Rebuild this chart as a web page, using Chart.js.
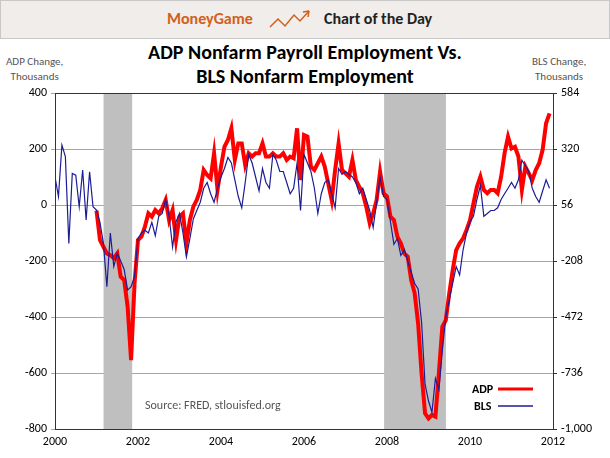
<!DOCTYPE html>
<html>
<head>
<meta charset="utf-8">
<script src="https://cdn.jsdelivr.net/npm/chart.js@4.4.0/dist/chart.umd.min.js"></script>
<style>
body { margin: 0; width: 610px; height: 458px; overflow: hidden; background: #fff; font-family: Calibri, Carlito, "Open Sans", sans-serif; position: relative; }
#head { position: absolute; left: 0; top: 0; width: 608px; height: 37px; background: #f0edea; border: 1px solid #c8c8c8; }
#head .mg { position: absolute; left: 166px; top: 8px; font-size: 16px; font-weight: bold; color: #d2601a; }
#head .cd { position: absolute; left: 323px; top: 8px; font-size: 16px; font-weight: bold; color: #222; }
#title { position: absolute; left: 0; width: 610px; top: 40px; text-align: center; font-size: 20px; font-weight: bold; line-height: 24px; color: #000; }
.ax { position: absolute; top: 54px; font-size: 11px; color: #555; text-align: center; line-height: 15px; }
#wrap { position: absolute; left: 0; top: 0; width: 610px; height: 458px; }
</style>
</head>
<body>
<div id="head"><span class="mg">MoneyGame</span>
<svg style="position:absolute;left:266px;top:6px" width="46" height="26"><path d="M3 20 L11 12 L18 19 L27 8 L33 14 L42 4" stroke="#d2601a" stroke-width="1.5" fill="none"/><path d="M42 4 L36 5 M42 4 L41 10" stroke="#d2601a" stroke-width="1.5"/></svg>
<span class="cd">Chart of the Day</span></div>
<div id="title">ADP Nonfarm Payroll Employment Vs.<br>BLS Nonfarm Employment</div>
<div class="ax" style="left:6px">ADP Change,<br>Thousands</div>
<div class="ax" style="left:532px">BLS Change,<br>Thousands</div>
<div id="wrap"><canvas id="c"></canvas></div>
<script>
// monthly ADP, Jan 2001 .. Dec 2011 (thousands)
const adp = [
  -20, -125, -149, -173, -179, -190, -173, -256, -268, -363, -554, -280,
  -125, -113, -77, -30, -42, -18, -30, -12, 18, -54, -18, -125,
  -42, -30, -137, -54, -6, 18, 54, 125, 107, 95, 185, 54,
  137, 208, 232, 274, 161, 220, 220, 143, 185, 173, 185, 185,
  220, 173, 173, 185, 173, 173, 185, 161, 173, 167, 274, 89,
  250, 244, 137, 125, 149, 173, 137, 77, 18, 125, 220, 125,
  113, 101, 161, 89, 65, 42, -6, -65, -30, 18, 119, 42,
  30, -42, -54, -113, -137, -173, -185, -268, -315, -423, -601, -744,
  -762, -750, -756, -601, -435, -411, -315, -232, -161, -137, -119, -89,
  -54, 6, 65, 101, 54, 42, 54, 54, 42, 101, 185, 244,
  202, 208, 173, 54, 137, 113, 89, 125, 149, 197, 292, 327
];
// monthly BLS, Jan 2000 .. Dec 2011 (thousands, right axis)
const bls = [
  189, 96, 338, 284, -125, 205, 197, 48, 221, -15, 213, 48,
  32, -26, -125, -329, -76, -234, -172, -208, -248, -345, -329, -282,
  -102, -76, -63, -76, -26, -89, 3, 16, 82, 3, -142, -23,
  16, -76, -188, -102, -10, 30, 69, 135, 162, 109, 69, 135,
  188, 228, 280, 254, 175, 96, 43, 162, 294, 254, 188, 122,
  228, 162, 135, 294, 267, 214, 214, 162, 109, 135, 254, 30,
  294, 254, 214, 135, 16, 109, 162, 175, 109, 43, 228, 201,
  214, 201, 188, 162, 109, 135, 82, 30, -50, 69, 188, 96,
  82, -23, -129, -102, -182, -155, -208, -261, -314, -340, -498, -789,
  -868, -921, -762, -815, -630, -472, -393, -314, -234, -274, -155, -76,
  -23, 3, 82, 148, 3, 16, 30, 30, 43, 82, 109, 135,
  162, 135, 175, 267, 241, 214, 135, 96, 69, 122, 175, 135
];
const recessions = [[2001.17, 2001.86], [2007.93, 2009.42]];
const leftTicks = [-800, -600, -400, -200, 0, 200, 400];
const rightTicks = [-1000, -736, -472, -208, 56, 320, 584];

const adpPts = adp.map((v, i) => ({ x: 2001 + i / 12, y: v }));
const blsPts = bls.map((v, i) => ({ x: 2000 + i / 12, y: v }));

const extras = {
  id: 'extras',
  beforeDatasetsDraw(chart) {
    const { ctx, chartArea: a, scales: { x } } = chart;
    ctx.save();
    ctx.fillStyle = '#bfbfbf';
    recessions.forEach(([s, e]) => {
      const x0 = x.getPixelForValue(s), x1 = x.getPixelForValue(e);
      ctx.fillRect(x0, a.top, x1 - x0, a.bottom - a.top);
    });
    ctx.restore();
  },
  afterDatasetsDraw(chart) {
    const { ctx, chartArea: a } = chart;
    ctx.save();
    ctx.strokeStyle = '#333';
    ctx.lineWidth = 1;
    ctx.strokeRect(a.left + 0.5, a.top + 0.5, a.right - a.left, a.bottom - a.top);
    ctx.font = '12px Calibri, Carlito, "Open Sans", sans-serif';
    ctx.fillStyle = '#555';
    ctx.fillText('Source: FRED, stlouisfed.org', 145, 409);
    ctx.font = 'bold 12px Calibri, Carlito, "Open Sans", sans-serif';
    ctx.fillStyle = '#000';
    ctx.fillText('ADP', 472, 393);
    ctx.fillText('BLS', 474, 410);
    ctx.strokeStyle = '#ff0000'; ctx.lineWidth = 3;
    ctx.beginPath(); ctx.moveTo(498, 389); ctx.lineTo(533, 389); ctx.stroke();
    ctx.strokeStyle = '#1c1c96'; ctx.lineWidth = 1.5;
    ctx.beginPath(); ctx.moveTo(498, 406); ctx.lineTo(533, 406); ctx.stroke();
    ctx.restore();
  }
};

new Chart(document.getElementById('c'), {
  type: 'line',
  data: {
    datasets: [{
      label: 'BLS',
      data: blsPts,
      yAxisID: 'y2',
      borderColor: '#1c1c96',
      borderWidth: 1.2,
      pointRadius: 0,
      tension: 0,
      fill: false,
    },
    {
      label: 'ADP',
      data: adpPts,
      yAxisID: 'y',
      borderColor: '#ff0000',
      borderWidth: 4,
      pointRadius: 0,
      tension: 0,
      fill: false,
    }]
  },
  options: {
    responsive: true,
    maintainAspectRatio: false,
    animation: { duration: 0 },
    layout: { padding: { top: 93, left: 0, right: 0, bottom: 0 } },
    plugins: { legend: { display: false }, tooltip: { enabled: false } },
    scales: {
      x: {
        type: 'linear',
        min: 2000, max: 2012,
        afterFit: s => { s.height = 29; },
        afterBuildTicks: s => { s.ticks = [2000, 2002, 2004, 2006, 2008, 2010, 2012].map(v => ({ value: v })); },
        ticks: { color: '#000', font: { size: 12, family: 'Calibri, Carlito, "Open Sans", sans-serif' }, maxRotation: 0, padding: 2, callback: v => String(v) },
        grid: { display: false, drawTicks: true, tickLength: 4, color: '#333' },
        border: { color: '#333' }
      },
      y: {
        position: 'left',
        min: -800, max: 400,
        afterFit: s => { s.width = 55; },
        afterBuildTicks: s => { s.ticks = leftTicks.map(v => ({ value: v })); },
        ticks: { color: '#000', font: { size: 12, family: 'Calibri, Carlito, "Open Sans", sans-serif' }, padding: 4 },
        grid: { color: '#a6a6a6', tickLength: 4 },
        border: { color: '#333' }
      },
      y2: {
        position: 'right',
        min: -1000, max: 584,
        afterFit: s => { s.width = 57; },
        afterBuildTicks: s => { s.ticks = rightTicks.map(v => ({ value: v })); },
        ticks: { color: '#000', font: { size: 12, family: 'Calibri, Carlito, "Open Sans", sans-serif' }, padding: 4, callback: v => v.toLocaleString('en-US') },
        grid: { drawOnChartArea: false, tickLength: 4, color: '#333' },
        border: { color: '#333' }
      }
    }
  },
  plugins: [extras]
});
</script>
</body>
</html>
